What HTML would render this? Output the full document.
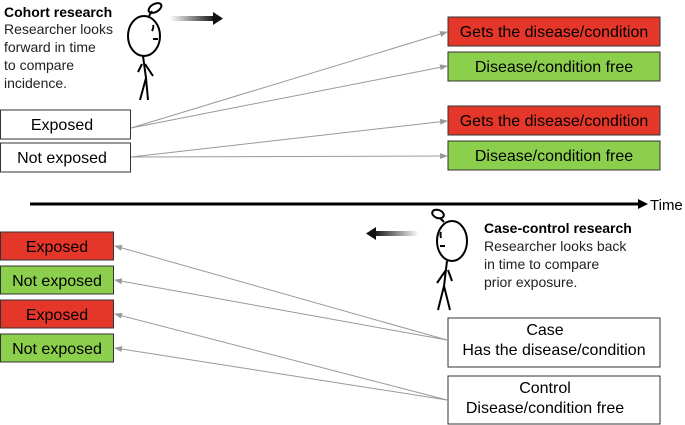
<!DOCTYPE html>
<html><head><meta charset="utf-8"><style>
html,body{margin:0;padding:0;background:#fff;}
svg{display:block;font-family:"Liberation Sans",Arial,sans-serif;}
</style></head><body>
<svg width="685" height="425" viewBox="0 0 685 425" xmlns="http://www.w3.org/2000/svg">
<defs>
<marker id="ah" markerWidth="8" markerHeight="8" refX="7" refY="4" orient="auto" markerUnits="userSpaceOnUse">
<path d="M0,1 L8,4 L0,7 Z" fill="#999"/></marker>
<linearGradient id="gr" x1="0" x2="1"><stop offset="0" stop-color="#fff"/><stop offset="1" stop-color="#111"/></linearGradient>
<linearGradient id="gl" x1="1" x2="0"><stop offset="0" stop-color="#fff"/><stop offset="1" stop-color="#111"/></linearGradient>
</defs>
<text x="4" y="17" font-size="14" font-weight="bold">Cohort research</text>
<text font-size="14" fill="#222"><tspan x="4" y="34">Researcher looks</tspan><tspan x="4" y="52">forward in time</tspan><tspan x="4" y="70">to compare</tspan><tspan x="4" y="88">incidence.</tspan></text>
<g fill="none" stroke="#000" stroke-width="2">
<ellipse cx="144" cy="36" rx="16" ry="20"/>
<ellipse cx="155" cy="8" rx="7" ry="4" transform="rotate(-30 155 8)"/>
<path d="M149,16 L152,11"/>
<path d="M143,56 L146,78 L140,100 M146,78 L148,100 M145,64 L153,76 M142,64 L138,72"/>
<path d="M152,31 q2,-4 1,-6 M153,39 l5,0"/>
</g>
<rect x="170" y="16" width="45" height="5" fill="url(#gr)"/>
<path d="M213,12 L223,18.5 L213,25 Z" fill="#111"/>
<rect x="448" y="17" width="212" height="29" fill="#e5362a" stroke="#333"/>
<text x="554" y="37" font-size="16" text-anchor="middle">Gets the disease/condition</text>
<rect x="448" y="52" width="212" height="29" fill="#8ccf4d" stroke="#333"/>
<text x="554" y="72" font-size="16" text-anchor="middle">Disease/condition free</text>
<rect x="448" y="106" width="212" height="29" fill="#e5362a" stroke="#333"/>
<text x="554" y="126" font-size="16" text-anchor="middle">Gets the disease/condition</text>
<rect x="448" y="141" width="212" height="29" fill="#8ccf4d" stroke="#333"/>
<text x="554" y="161" font-size="16" text-anchor="middle">Disease/condition free</text>
<rect x="0.5" y="110" width="130" height="29" fill="#fff" stroke="#333"/>
<text x="62" y="130" font-size="16" text-anchor="middle">Exposed</text>
<rect x="0.5" y="143" width="130" height="29" fill="#fff" stroke="#333"/>
<text x="62" y="163" font-size="16" text-anchor="middle">Not exposed</text>
<g stroke="#999" stroke-width="1" marker-end="url(#ah)">
<line x1="131" y1="128" x2="447" y2="32"/>
<line x1="131" y1="128" x2="447" y2="66"/>
<line x1="131" y1="157" x2="447" y2="121"/>
<line x1="131" y1="157" x2="447" y2="156"/>
</g>
<line x1="30" y1="204" x2="640" y2="204" stroke="#000" stroke-width="3"/>
<path d="M638,199 L648,204 L638,209 Z" fill="#000"/>
<text x="650" y="210" font-size="15">Time</text>
<rect x="374" y="231" width="45" height="5" fill="url(#gl)"/>
<path d="M376,227 L366,233.5 L376,240 Z" fill="#111"/>
<g fill="none" stroke="#000" stroke-width="2">
<ellipse cx="452" cy="241" rx="15" ry="20"/>
<ellipse cx="438" cy="214" rx="6" ry="4" transform="rotate(20 438 214)"/>
<path d="M444,222 L440,218"/>
<path d="M447,261 L444,286 L438,310 M444,286 L450,310 M446,270 L437,283 M448,270 L452,281"/>
<path d="M441,238 q-1,-4 0,-6 M440,246 l5,0"/>
</g>
<text x="484" y="233" font-size="14" font-weight="bold">Case-control research</text>
<text font-size="14" fill="#222"><tspan x="484" y="251">Researcher looks back</tspan><tspan x="484" y="269">in time to compare</tspan><tspan x="484" y="287">prior exposure.</tspan></text>
<rect x="0.5" y="232" width="113" height="28" fill="#e5362a" stroke="#333"/>
<text x="57" y="252" font-size="16" text-anchor="middle">Exposed</text>
<rect x="0.5" y="266" width="113" height="28" fill="#8ccf4d" stroke="#333"/>
<text x="57" y="286" font-size="16" text-anchor="middle">Not exposed</text>
<rect x="0.5" y="300" width="113" height="28" fill="#e5362a" stroke="#333"/>
<text x="57" y="320" font-size="16" text-anchor="middle">Exposed</text>
<rect x="0.5" y="334" width="113" height="28" fill="#8ccf4d" stroke="#333"/>
<text x="57" y="354" font-size="16" text-anchor="middle">Not exposed</text>
<rect x="448" y="318" width="212" height="49" fill="#fff" stroke="#333"/>
<text x="545" y="335" font-size="16" text-anchor="middle">Case</text>
<text x="554" y="355" font-size="16" text-anchor="middle">Has the disease/condition</text>
<rect x="448" y="376" width="212" height="48" fill="#fff" stroke="#333"/>
<text x="545" y="393" font-size="16" text-anchor="middle">Control</text>
<text x="545" y="413" font-size="16" text-anchor="middle">Disease/condition free</text>
<g stroke="#999" stroke-width="1" marker-end="url(#ah)">
<line x1="447" y1="340" x2="115" y2="246"/>
<line x1="447" y1="340" x2="115" y2="280"/>
<line x1="447" y1="400" x2="115" y2="314"/>
<line x1="447" y1="400" x2="115" y2="348"/>
</g>
</svg>
</body></html>
